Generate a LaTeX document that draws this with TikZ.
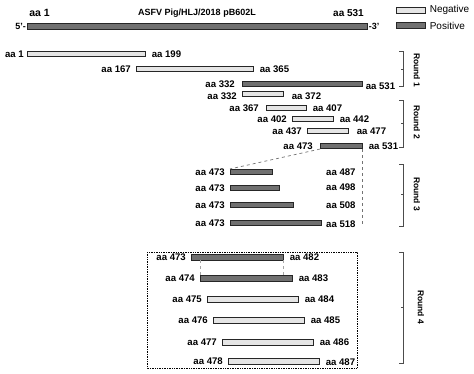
\documentclass[tikz,border=0pt]{standalone}
\usepackage{fontspec}
\setmainfont{Liberation Sans}
\usetikzlibrary{positioning}

\definecolor{negfill}{gray}{0.9}
\definecolor{posfill}{gray}{0.44}

\begin{document}
\begin{tikzpicture}[x=1pt,y=-1pt]
	\useasboundingbox (0,0) rectangle (474,373);
	\tikzstyle{seg} = [
		rectangle, draw=black!85, line width=0.6pt, anchor=west, inner sep=0pt,
		minimum height=5.5pt
	]
	\tikzstyle{negbar} = [
		seg, fill=negfill
	]
	\tikzstyle{posbar} = [
		seg, fill=posfill
	]
	\tikzstyle{aa} = [
		font=\fontsize{9.6}{10}\selectfont\bfseries, inner sep=1pt
	]
	\tikzstyle{aal} = [
		aa, xshift=-4pt
	]
	\tikzstyle{aar} = [
		aa, xshift=5pt
	]
	\tikzstyle{rnd} = [
		font=\fontsize{8.5}{9}\selectfont\bfseries, rotate=-90, inner sep=0pt
	]
	\tikzstyle{brk} = [
		draw=black!70, line width=0.6pt
	]
	\tikzstyle{zoomline} = [
		draw=black!55, dashed, line width=0.7pt
	]

	% Full length protein
	\node (full) [posbar, minimum width=340, minimum height=6,
		label={[aa, font=\fontsize{9}{10}\selectfont\bfseries]left:5'-},
		label={[aa, font=\fontsize{9}{10}\selectfont\bfseries]right:-3'}] at (27,26) {};
	\node (full_start) [aa, font=\fontsize{10.5}{11}\selectfont\bfseries] at (39.5,13) {aa 1};
	\node (full_end) [aa, font=\fontsize{10}{11}\selectfont\bfseries] at (348.5,13) {aa 531};
	\node (title) [aa, font=\fontsize{9}{10}\selectfont\bfseries] at (197,13) {ASFV Pig/HLJ/2018 pB602L};

	% Legend
	\node (neg_key) [negbar, minimum width=29, minimum height=6] at (396,10) {};
	\node (neg_txt) [right=4pt of neg_key, inner sep=0pt, font=\fontsize{10}{11}\selectfont] {Negative};
	\node (pos_key) [posbar, minimum width=29, minimum height=5.5] at (396,25.5) {};
	\node (pos_txt) [right=4pt of pos_key, inner sep=0pt, font=\fontsize{10}{11}\selectfont] {Positive};

	% Round 1
	\node (r1_a) [negbar, minimum width=118, label={[aal, xshift=2pt]left:aa 1}, label={[aar]right:aa 199}] at (27,54) {};
	\node (r1_b) [negbar, minimum width=117, label={[aal]left:aa 167}, label={[aar]right:aa 365}] at (136,69) {};
	\node (r1_c) [posbar, minimum width=120, label={[aal, xshift=-2pt]left:aa 332}, label={[aar, xshift=-3pt, yshift=-2pt]right:aa 531}] at (242,84) {};

	% Round 2
	\node (r2_a) [negbar, minimum width=41, label={[aal, yshift=-2pt]left:aa 332}, label={[aar, yshift=-2pt, xshift=2pt]right:aa 372}] at (242,94) {};
	\node (r2_b) [negbar, minimum width=40, label={[aal, xshift=-2pt]left:aa 367}, label={[aar]right:aa 407}] at (266,108) {};
	\node (r2_c) [negbar, minimum width=41, label={[aal]left:aa 402}, label={[aar]right:aa 442}] at (292,119) {};
	\node (r2_d) [negbar, minimum width=41, label={[aal]left:aa 437}, label={[aar, xshift=2pt]right:aa 477}] at (307,131) {};
	\node (r2_e) [posbar, minimum width=42, label={[aal, xshift=-2pt]left:aa 473}, label={[aar]right:aa 531}] at (320,146) {};

	% Round 3
	\node (r3_a) [posbar, minimum width=42, label={[aal]left:aa 473}] at (230,172) {};
	\node (r3_b) [posbar, minimum width=49, label={[aal]left:aa 473}] at (230,188) {};
	\node (r3_c) [posbar, minimum width=63, label={[aal]left:aa 473}] at (230,205) {};
	\node (r3_d) [posbar, minimum width=91, label={[aal]left:aa 473}] at (230,223) {};
	\node (r3_a_end) [aa, anchor=west] at (325,172) {aa 487};
	\node (r3_b_end) [aa, anchor=west] at (325,187) {aa 498};
	\node (r3_c_end) [aa, anchor=west] at (325,205) {aa 508};
	\node (r3_d_end) [aa, anchor=west] at (325,224) {aa 518};

	% Round 4
	\node (r4_a) [posbar, minimum width=92, minimum height=6, label={[aal]left:aa 473}, label={[aar]right:aa 482}] at (191,257) {};
	\node (r4_b) [posbar, minimum width=92, minimum height=6, label={[aal]left:aa 474}, label={[aar]right:aa 483}] at (200,278) {};
	\node (r4_c) [negbar, minimum width=91, minimum height=6, label={[aal]left:aa 475}, label={[aar]right:aa 484}] at (207,299) {};
	\node (r4_d) [negbar, minimum width=91, minimum height=6, label={[aal]left:aa 476}, label={[aar]right:aa 485}] at (213,320) {};
	\node (r4_e) [negbar, minimum width=91, minimum height=6, label={[aal]left:aa 477}, label={[aar]right:aa 486}] at (222,342) {};
	\node (r4_f) [negbar, minimum width=91, minimum height=6, label={[aal]left:aa 478}, label={[aar, yshift=-1pt]right:aa 487}] at (228,361) {};
	\draw[densely dotted, line width=0.7pt] (147,252) rectangle (357,368);

	% Zoom lines
	\draw[zoomline] (r2_e.south west) -- (r3_a.north west);
	\draw[zoomline] (r2_e.south east) -- (r2_e.south east |- r3_d.south);
	\draw[zoomline, draw=black!35, line width=0.6pt] (r4_a.south east) -- (r4_a.south east |- r4_b.north);
	\draw[zoomline, draw=black!35, line width=0.6pt] (r4_b.north west) -- (r4_b.north west |- r4_a.south);

	% Rounds
	\draw[brk] (399,51) -- (403,51) -- (403,86) -- (399,86) (403,69) -- (400.5,69);
	\node (round1) [rnd] at (417,70) {Round 1};
	\draw[brk] (399,100) -- (403,100) -- (403,147) -- (399,147) (403,123) -- (400.5,123);
	\node (round2) [rnd] at (417,122) {Round 2};
	\draw[brk] (399,164) -- (403,164) -- (403,226) -- (399,226) (403,194) -- (400.5,194);
	\node (round3) [rnd] at (417,194) {Round 3};
	\draw[brk] (399,252) -- (403,252) -- (403,363) -- (399,363) (403,307) -- (400.5,307);
	\node (round4) [rnd] at (421,307) {Round 4};

\end{tikzpicture}
\end{document}
